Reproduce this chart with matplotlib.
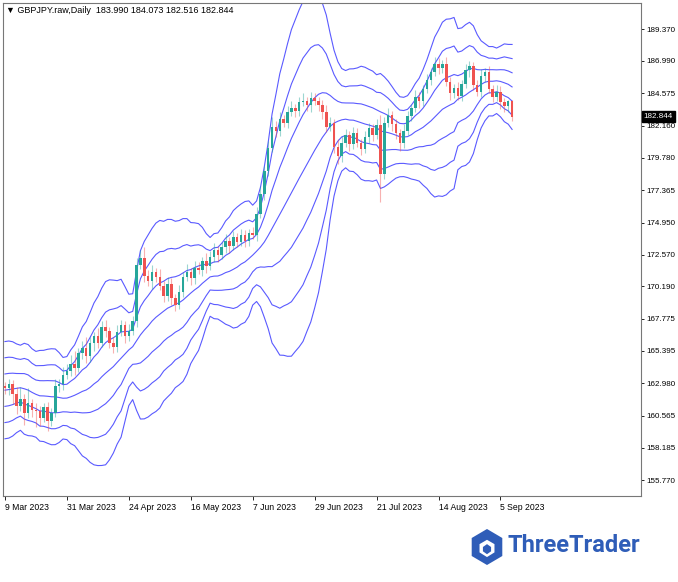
import matplotlib
matplotlib.use("Agg")
import matplotlib.pyplot as plt
import numpy as np
import pandas as pd

dates = pd.bdate_range("2023-03-09", periods=132)

# closes
closes = [162.6, 162.9, 162.2, 161.3, 161.8, 160.8, 161.5, 161.0, 160.9, 160.4, 161.2,
          160.2, 160.8, 162.8, 162.9, 163.6, 163.9,
          164.4, 164.1, 165.2, 165.6, 165.0, 166.0, 166.5, 166.0, 167.2, 166.9, 166.0, 165.7,
          166.8, 167.3, 166.5, 166.9, 167.6,
          171.8, 172.3, 171.0, 170.6, 171.3, 170.9, 170.2, 169.5, 170.4, 169.3, 168.8, 169.8,
          170.9, 171.3, 170.8, 171.6, 171.4, 172.1, 171.7, 172.4, 172.9, 172.5, 173.1, 173.6,
          173.2, 173.9, 173.5, 174.0, 173.6, 174.2, 174.0, 175.6, 177.1, 178.8, 180.5, 182.1,
          181.8, 182.7, 182.4, 183.2, 183.5, 183.3, 183.9, 184.0, 183.7, 184.2, 184.0,
          183.7, 183.2, 182.1, 182.4, 180.6, 179.9, 180.9, 181.5, 180.8, 181.6, 180.9, 180.4,
          181.3, 182.0, 181.5, 182.2, 178.6, 182.4, 183.0, 182.3, 181.6, 180.9, 181.8, 182.9,
          183.5, 184.3, 184.0, 184.9, 185.6, 186.2, 186.8, 186.5, 186.8, 185.4, 184.6, 185.0,
          184.4, 185.3, 186.3, 186.6, 185.2, 184.7, 185.9, 186.2, 184.9, 184.3, 184.7, 183.9,
          183.6, 183.990, 182.844]
first_open = 162.8
wick_up = [0.3, 0.4, 0.3, 0.5, 0.9, 0.4, 1.1, 0.3, 0.5, 0.4, 0.3,
           0.4, 0.3, 0.5, 0.4, 0.6, 0.5,
           0.7, 1.0, 0.4, 0.5, 0.8, 0.4, 0.3, 0.6, 0.4, 0.5, 0.3, 0.4,
           0.5, 0.4, 0.3, 0.5, 0.4,
           0.5, 0.6, 0.8, 0.4, 0.5, 0.3, 0.6, 0.4, 0.5, 0.4, 0.3, 0.5,
           0.4, 0.6, 0.3, 0.5, 0.4, 0.3, 0.6, 0.4, 0.5, 0.3, 0.4, 0.5,
           0.3, 0.4, 0.3, 0.5, 0.4, 0.3, 0.4, 0.5, 0.6, 0.4, 0.5, 0.7,
           0.4, 0.5, 0.3, 0.4, 0.5, 0.3, 0.4, 0.6, 0.3, 0.5, 0.4,
           0.3, 0.4, 0.5, 0.4, 0.3, 0.6, 0.5, 0.4, 0.3, 0.5, 0.4, 0.3,
           0.5, 0.4, 0.3, 0.5, 0.8, 0.4, 0.5, 0.3, 0.4, 0.3, 0.5, 0.4,
           0.3, 0.5, 0.4, 0.3, 0.4, 0.3, 0.5, 0.4, 0.3, 0.5, 0.4, 0.3,
           0.4, 0.3, 0.5, 0.4, 0.3, 0.4, 0.5, 0.3, 0.4, 0.3, 0.5, 0.4,
           0.3, 0.083, 0.083]
wick_dn = [0.4, 0.5, 0.8, 0.6, 0.4, 0.9, 0.4, 0.5, 1.2, 0.6, 0.3,
           0.8, 0.4, 0.3, 0.5, 0.4, 0.3,
           0.4, 0.5, 0.3, 0.4, 0.5, 0.4, 0.6, 0.4, 0.3, 0.5, 0.4, 0.5,
           0.4, 0.3, 0.5, 0.4, 0.3,
           0.4, 0.3, 0.5, 0.4, 0.6, 0.4, 0.3, 0.5, 0.4, 0.5, 0.4, 0.3,
           0.4, 0.3, 0.5, 0.4, 0.3, 0.4, 0.5, 0.3, 0.4, 0.5, 0.3, 0.4,
           0.5, 0.3, 0.4, 0.3, 0.5, 0.4, 0.3, 0.4, 0.3, 0.5, 0.4, 0.3,
           0.5, 0.4, 0.3, 0.4, 0.3, 0.5, 0.4, 0.3, 0.4, 0.5, 0.3,
           0.4, 0.5, 0.4, 0.3, 0.5, 0.6, 0.4, 0.3, 0.5, 0.4, 0.3, 0.4,
           0.3, 0.4, 0.5, 0.3, 2.1, 0.4, 0.3, 0.5, 0.4, 0.6, 0.4, 0.3,
           0.4, 0.3, 0.5, 0.4, 0.3, 0.4, 0.3, 0.5, 0.4, 0.3, 0.5, 0.4,
           0.3, 0.4, 0.3, 0.5, 0.4, 0.3, 0.4, 0.5, 0.3, 0.4, 0.3, 0.5,
           0.4, 0.4, 0.33]
# closes before the first visible bar, used to start the bands
history = [162.0, 161.2, 160.4, 161.0, 162.3, 163.5, 164.4, 163.8, 162.6, 161.4,
           160.7, 161.5, 162.9, 164.0, 164.6, 163.7, 162.5, 161.8, 162.4]
yticks = [189.370, 186.990, 184.575, 182.160, 179.780, 177.365, 174.950, 172.570,
          170.190, 167.775, 165.395, 162.980, 160.565, 158.185, 155.770]
xtick_idx = [0, 16, 32, 48, 64, 80, 96, 112, 128]

UP = "#26a69a"
DOWN = "#ef5350"
BAND = "#5a5aff"
FONT = "Liberation Sans"

closes = np.array(closes)
opens = np.concatenate([[first_open], closes[:-1]])
highs = np.maximum(opens, closes) + np.array(wick_up)
lows = np.minimum(opens, closes) - np.array(wick_dn)
x = np.arange(len(closes))

fig = plt.figure(figsize=(6.78, 5.82), dpi=100)
ax = fig.add_axes([3 / 678, 1 - 496 / 582, 638 / 678, 493 / 582])

# bands
full = pd.Series(history + list(closes))
ma = full.rolling(20).mean().values[len(history):]
sd = full.rolling(20).std(ddof=0).values[len(history):]
for k in [-3, -2, -1, 0, 1, 2, 3]:
    ax.plot(x, ma + k * sd, color=BAND, lw=0.8, zorder=1)

for i in x:
    c = UP if closes[i] >= opens[i] else DOWN
    ax.vlines(i, lows[i], highs[i], color=c, lw=0.8, alpha=0.45, zorder=2)
    lo, hi = sorted([opens[i], closes[i]])
    ax.bar(i, max(hi - lo, 0.05), bottom=lo, width=0.65, color=c, zorder=3)

ax.set_xlim(-0.5, 164.3)
ax.set_ylim(154.58, 191.31)
ax.yaxis.tick_right()
ax.set_yticks(yticks)
ax.set_yticklabels([f"{v:.3f}" for v in yticks], fontsize=5.8, family=FONT)
ax.set_xticks(xtick_idx)
ax.set_xticklabels([f"{dates[i].day} {dates[i].strftime('%b %Y')}" for i in xtick_idx],
                   fontsize=6.2, ha="left", family=FONT)
ax.tick_params(axis="y", length=2, width=0.6, pad=2)
ax.tick_params(axis="x", length=3, width=0.6, pad=2)
for s in ax.spines.values():
    s.set_color("#777777")
    s.set_linewidth(0.8)

ax.text(0.005, 0.993, "▼ GBPJPY.raw,Daily  183.990 184.073 182.516 182.844",
        transform=ax.transAxes, fontsize=6.5, va="top", ha="left", family=[FONT, "DejaVu Sans"])
ax.text(1.004, 182.844, "182.844", transform=ax.get_yaxis_transform(), fontsize=5.8,
        color="white", va="center", ha="left", family=FONT,
        bbox=dict(boxstyle="square,pad=0.25", fc="black", ec="black"))

# logo
lx = fig.add_axes([470 / 678, 1 - 565 / 582, 34 / 678, 36 / 582])
lx.axis("off")
lx.set_xlim(0, 1)
lx.set_ylim(0, 1)
logo_blue = "#2f5db8"
lx.add_patch(plt.Polygon([[0.5, 1], [0.95, 0.75], [0.95, 0.25], [0.5, 0], [0.05, 0.25], [0.05, 0.75]],
                         fc=logo_blue, ec="none"))
lx.add_patch(plt.Polygon([[0.5, 0.7], [0.72, 0.58], [0.72, 0.35], [0.5, 0.22], [0.28, 0.35], [0.28, 0.58]],
                         fc="white", ec="none"))
lx.add_patch(plt.Polygon([[0.5, 0.58], [0.62, 0.5], [0.62, 0.38], [0.5, 0.3], [0.38, 0.38], [0.38, 0.5]],
                         fc=logo_blue, ec="none"))
fig.text(508 / 678, 1 - 546 / 582, "ThreeTrader", fontsize=17, fontweight="bold",
         color=logo_blue, va="center", ha="left", family="Roboto")

fig.savefig("out.png", dpi=100, facecolor="white")
